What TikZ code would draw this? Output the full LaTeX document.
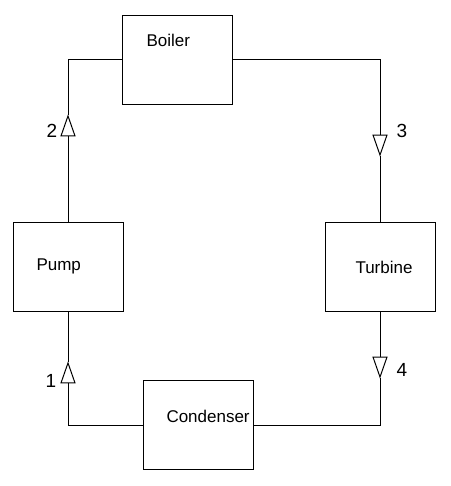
\documentclass[tikz,border=0pt]{standalone}
\usepackage{fontspec}
\setmainfont{Liberation Sans}
\usetikzlibrary{shapes.geometric}

\begin{document}
\begin{tikzpicture}[x=1pt, y=-1pt, line width=1pt,
    unit/.style={draw, minimum width=110pt, minimum height=89pt, inner sep=0pt},
    flow/.style={draw, fill=white, isosceles triangle, isosceles triangle stretches,
      minimum width=14pt, minimum height=20pt, inner sep=0pt},
    flowup/.style={flow, shape border rotate=90},
    flowdown/.style={flow, shape border rotate=-90},
    unitlabel/.style={anchor=base west, inner sep=0pt, font=\fontsize{17}{20}\selectfont},
    statenum/.style={anchor=base west, inner sep=0pt, font=\fontsize{19}{22}\selectfont}]
        \useasboundingbox (0,0) rectangle (450,486);
        % components of the cycle
        \node[unit] (boiler) at (177.5,60) {};
        \node[unit] (pump) at (68,266.5) {};
        \node[unit] (turbine) at (380,266.5) {};
        \node[unit] (condenser) at (198,425) {};
        \node[unitlabel] (tboiler) at (146,47) {Boiler};
        \node[unitlabel] (tpump) at (36,270) {Pump};
        \node[unitlabel] (tturbine) at (355,273) {Turbine};
        \node[unitlabel] (tcondenser) at (166,422) {Condenser};
        % flow direction marks
        \node[flowup] (s2) at (68,131) {};
        \node[flowdown] (s3) at (380,140) {};
        \node[flowup] (s1) at (68,378) {};
        \node[flowdown] (s4) at (380,362) {};
        \node[statenum] (n2) at (46,138) {2};
        \node[statenum] (n3) at (396,138) {3};
        \node[statenum] (n1) at (45,387) {1};
        \node[statenum] (n4) at (396,376) {4};
        % pipe corners
        \coordinate (c2) at (pump |- boiler);
        \coordinate (c3) at (turbine |- boiler);
        \coordinate (c4) at (turbine |- condenser);
        \coordinate (c1) at (pump |- condenser);
        \draw (pump) -- (s2) -- (c2) -- (boiler);
        \draw (boiler) -- (c3) -- (s3) -- (turbine);
        \draw (turbine) -- (s4) -- (c4) -- (condenser);
        \draw (condenser) -- (c1) -- (s1) -- (pump);
    \end{tikzpicture}
\end{document}
